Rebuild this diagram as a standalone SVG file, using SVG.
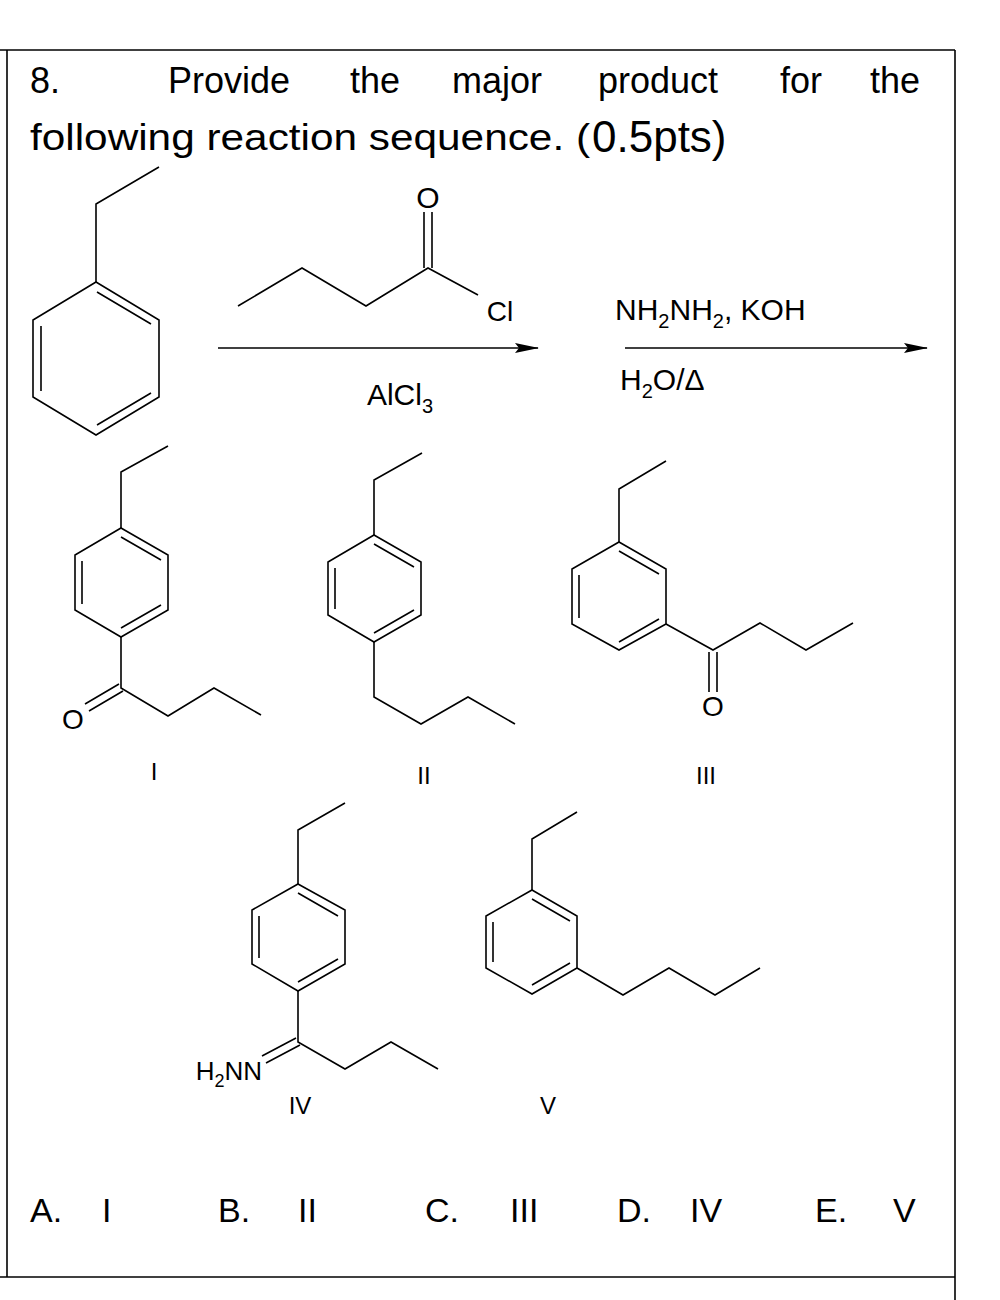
<svg xmlns="http://www.w3.org/2000/svg" width="1000" height="1300" viewBox="0 0 1000 1300">
<style>
.b{fill:none;stroke:#000;stroke-width:1.6;stroke-linejoin:miter}
.t{font-family:"Liberation Sans",Arial,sans-serif;fill:#000}
.lab{font-family:"Liberation Sans",Arial,sans-serif;font-size:24px;fill:#000}
</style>
<defs>
<marker id="ah" markerWidth="24" markerHeight="10" refX="23" refY="5" orient="auto" markerUnits="userSpaceOnUse"><path d="M0,0 L24,5 L0,10 L4,5 Z" fill="#000"/></marker>
</defs>
<rect width="1000" height="1300" fill="#fff"/>
<g id="frame" fill="none" stroke="#000" stroke-width="1.6">
<line x1="0" y1="50" x2="955" y2="50"/>
<line x1="7" y1="50" x2="7" y2="1277"/>
<line x1="955" y1="50" x2="955" y2="1300"/>
<line x1="0" y1="1277" x2="955" y2="1277"/>
</g>
<g id="question" class="t" font-size="36">
<text x="30" y="93">8.</text>
<text x="168" y="93">Provide</text>
<text x="350" y="93">the</text>
<text x="452" y="93">major</text>
<text x="598" y="93">product</text>
<text x="780" y="93">for</text>
<text x="870" y="93">the</text>
<text x="30" y="150" textLength="560" lengthAdjust="spacingAndGlyphs">following reaction sequence. (</text>
<text x="592" y="152" font-size="44">0.5pts)</text>
</g>
<g id="start">
<path class="b" d="M159,167 L96,204 L96,282"/>
<path class="b" d="M96,282 L159,320 L159,397 L96,435 L33,397 L33,320 Z"/>
<path class="b" d="M97,292 L151,324 M41,326 L41,391 M151,393 L97,425"/>
</g>
<g id="reagent1">
<path class="b" d="M238,306 L302,268 L366,306 L428,268 L478,295"/>
<path class="b" d="M424,268 L424,212 M432,268 L432,212"/>
<text class="t" x="428" y="208" font-size="30" text-anchor="middle">O</text>
<text class="t" x="500" y="321" font-size="28" text-anchor="middle">Cl</text>
<text class="t" x="400" y="405" font-size="30" text-anchor="middle">AlCl<tspan font-size="20" dy="8">3</tspan></text>
</g>
<g id="reagent2" class="t" font-size="30">
<text x="615" y="320">NH<tspan font-size="20" dy="8">2</tspan><tspan dy="-8">NH</tspan><tspan font-size="20" dy="8">2</tspan><tspan dy="-8">, KOH</tspan></text>
<text x="620" y="390">H<tspan font-size="20" dy="8">2</tspan><tspan dy="-8">O/Δ</tspan></text>
</g>
<g id="connectors">
<line class="b" x1="218" y1="348" x2="538" y2="348" marker-end="url(#ah)"/>
<line class="b" x1="625" y1="348" x2="927" y2="348" marker-end="url(#ah)"/>
</g>
<g id="I">
<path class="b" d="M168,446 L121,472 L121,528"/>
<path class="b" d="M121,528 L168,555 L168,610 L121,637 L75,610 L75,555 Z"/>
<path class="b" d="M121,537 L161,560 M82,561 L82,604 M161,605 L121,628"/>
<path class="b" d="M121,637 L121,688 L168,716 L214,688 L261,715"/>
<path class="b" d="M119,684 L85,704 M123,691 L89,711"/>
<text class="t" x="73" y="729" font-size="28" text-anchor="middle">O</text>
<text class="lab" x="154" y="780" text-anchor="middle">I</text>
</g>
<g id="II">
<path class="b" d="M422,453 L374,480 L374,535"/>
<path class="b" d="M374,535 L421,562 L421,615 L374,642 L328,615 L328,562 Z"/>
<path class="b" d="M374,544 L414,567 M335,568 L335,609 M414,610 L374,633"/>
<path class="b" d="M374,642 L374,697 L421,724 L468,697 L515,724"/>
<text class="lab" x="424" y="784" text-anchor="middle">II</text>
</g>
<g id="III">
<path class="b" d="M666,461 L619,489 L619,542"/>
<path class="b" d="M619,542 L666,569 L666,624 L619,650 L572,624 L572,569 Z"/>
<path class="b" d="M619,551 L659,574 M579,575 L579,618 M659,619 L619,642"/>
<path class="b" d="M666,624 L713,650 L760,623 L806,650 L853,623"/>
<path class="b" d="M709,652 L709,692 M717,652 L717,692"/>
<text class="t" x="713" y="716" font-size="28" text-anchor="middle">O</text>
<text class="lab" x="706" y="784" text-anchor="middle">III</text>
</g>
<g id="IV">
<path class="b" d="M345,803 L298,830 L298,884"/>
<path class="b" d="M298,884 L345,910 L345,964 L298,991 L252,964 L252,910 Z"/>
<path class="b" d="M298,893 L338,916 M259,916 L259,958 M338,959 L298,982"/>
<path class="b" d="M298,991 L298,1042 L345,1069 L391,1042 L438,1069"/>
<path class="b" d="M296,1038 L262,1056 M300,1045 L266,1063"/>
<text class="t" x="262" y="1080" font-size="26" text-anchor="end">H<tspan font-size="18" dy="7">2</tspan><tspan dy="-7">NN</tspan></text>
<text class="lab" x="300" y="1114" text-anchor="middle">IV</text>
</g>
<g id="V">
<path class="b" d="M577,812 L532,839 L532,890"/>
<path class="b" d="M532,890 L577,916 L577,968 L532,994 L486,968 L486,916 Z"/>
<path class="b" d="M532,899 L570,921 M493,922 L493,962 M570,963 L532,985"/>
<path class="b" d="M577,968 L623,995 L669,968 L715,995 L760,968"/>
<text class="lab" x="548" y="1114" text-anchor="middle">V</text>
</g>
<g id="answers" class="t" font-size="34">
<text x="30" y="1222">A.</text><text x="102" y="1222">I</text>
<text x="218" y="1222">B.</text><text x="298" y="1222">II</text>
<text x="425" y="1222">C.</text><text x="510" y="1222">III</text>
<text x="617" y="1222">D.</text><text x="690" y="1222">IV</text>
<text x="815" y="1222">E.</text><text x="893" y="1222">V</text>
</g>
</svg>
